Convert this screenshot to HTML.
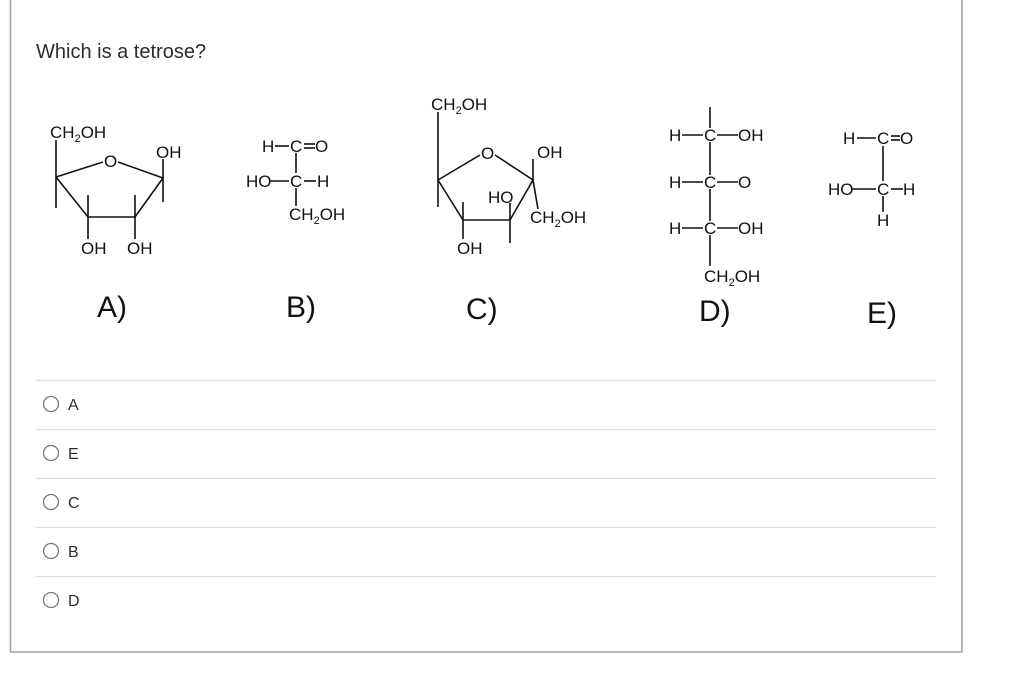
<!DOCTYPE html>
<html><head><meta charset="utf-8"><style>
html,body{margin:0;padding:0;background:#fff;width:1024px;height:688px;overflow:hidden}
svg{display:block}
.c{font-family:"Liberation Sans",Arial,sans-serif;font-size:17px;fill:#111}
.s{font-size:11px}
.L{font-family:"Liberation Sans",Arial,sans-serif;font-size:30px;fill:#111}
.o{font-family:"Liberation Sans",Arial,sans-serif;font-size:16px;fill:#2d2d2d}
</style></head><body>
<svg width="1024" height="688" viewBox="0 0 1024 688">
<rect x="10.5" y="-5" width="951.5" height="657" fill="none" stroke="#a0a0a0" stroke-width="1.5"/>
<text x="36" y="58" font-family="Liberation Sans,Arial,sans-serif" font-size="20" fill="#2d2d2d">Which is a tetrose?</text>

<g stroke="#111" stroke-width="1.6" fill="none">
<!-- A -->
<line x1="56" y1="140" x2="56" y2="208"/>
<polyline points="56,177 103,162"/><polyline points="118,162 163,178 135,217 88,217 56,177"/>
<line x1="163" y1="159" x2="163" y2="202"/>
<line x1="88" y1="195" x2="88" y2="239"/><line x1="135" y1="195" x2="135" y2="239"/>
<!-- B -->
<line x1="296" y1="153" x2="296" y2="173"/><line x1="296" y1="188" x2="296" y2="206"/>
<line x1="275" y1="146" x2="289" y2="146"/><line x1="304" y1="144" x2="315" y2="144"/><line x1="304" y1="148" x2="315" y2="148"/>
<line x1="270" y1="181" x2="289" y2="181"/><line x1="304" y1="181" x2="316" y2="181"/>
<!-- C -->
<line x1="438" y1="112" x2="438" y2="207"/>
<polyline points="438,180 480,155"/><polyline points="495,155 533,180 510,220 463,220 438,180"/>
<line x1="533" y1="159" x2="533" y2="180"/><line x1="533" y1="180" x2="538" y2="209"/>
<line x1="463" y1="202" x2="463" y2="239"/><line x1="510" y1="203" x2="510" y2="243"/>
<!-- D -->
<line x1="710" y1="107" x2="710" y2="128"/><line x1="710" y1="142" x2="710" y2="175"/>
<line x1="710" y1="189" x2="710" y2="221"/><line x1="710" y1="235" x2="710" y2="266"/>
<line x1="682" y1="135" x2="703" y2="135"/><line x1="717" y1="135" x2="738" y2="135"/>
<line x1="682" y1="182" x2="703" y2="182"/><line x1="717" y1="182" x2="738" y2="182"/>
<line x1="682" y1="228" x2="703" y2="228"/><line x1="717" y1="228" x2="738" y2="228"/>
<!-- E -->
<line x1="883" y1="146" x2="883" y2="181"/><line x1="883" y1="196" x2="883" y2="212"/>
<line x1="857" y1="138" x2="876" y2="138"/><line x1="891" y1="136" x2="900" y2="136"/><line x1="891" y1="140" x2="900" y2="140"/>
<line x1="852" y1="189" x2="876" y2="189"/><line x1="891" y1="189" x2="903" y2="189"/>
</g>

<!-- A text -->
<text class="c" x="50" y="138">CH<tspan class="s" dy="4">2</tspan><tspan dy="-4">OH</tspan></text>
<text class="c" x="104" y="167">O</text>
<text class="c" x="156" y="158">OH</text>
<text class="c" x="81" y="254">OH</text>
<text class="c" x="127" y="254">OH</text>
<text class="L" x="97" y="317">A)</text>
<!-- B text -->
<text class="c" x="262" y="152">H</text><text class="c" x="290" y="152">C</text><text class="c" x="315" y="152">O</text>
<text class="c" x="246" y="187">HO</text><text class="c" x="290" y="187">C</text><text class="c" x="317" y="187">H</text>
<text class="c" x="289" y="220">CH<tspan class="s" dy="4">2</tspan><tspan dy="-4">OH</tspan></text>
<text class="L" x="286" y="317">B)</text>
<!-- C text -->
<text class="c" x="431" y="110">CH<tspan class="s" dy="4">2</tspan><tspan dy="-4">OH</tspan></text>
<text class="c" x="481" y="159">O</text>
<text class="c" x="537" y="158">OH</text>
<text class="c" x="488" y="203">HO</text>
<text class="c" x="530" y="223">CH<tspan class="s" dy="4">2</tspan><tspan dy="-4">OH</tspan></text>
<text class="c" x="457" y="254">OH</text>
<text class="L" x="466" y="319">C)</text>
<!-- D text -->
<text class="c" x="669" y="141">H</text><text class="c" x="704" y="141">C</text><text class="c" x="738" y="141">OH</text>
<text class="c" x="669" y="188">H</text><text class="c" x="704" y="188">C</text><text class="c" x="738" y="188">O</text>
<text class="c" x="669" y="234">H</text><text class="c" x="704" y="234">C</text><text class="c" x="738" y="234">OH</text>
<text class="c" x="704" y="282">CH<tspan class="s" dy="4">2</tspan><tspan dy="-4">OH</tspan></text>
<text class="L" x="699" y="321">D)</text>
<!-- E text -->
<text class="c" x="843" y="144">H</text><text class="c" x="877" y="144">C</text><text class="c" x="900" y="144">O</text>
<text class="c" x="828" y="195">HO</text><text class="c" x="877" y="195">C</text><text class="c" x="903" y="195">H</text>
<text class="c" x="877" y="226">H</text>
<text class="L" x="867" y="323">E)</text>

<!-- options -->
<g stroke="#ddd" stroke-width="1.2">
<line x1="36" y1="380.5" x2="936" y2="380.5"/><line x1="36" y1="429.5" x2="936" y2="429.5"/>
<line x1="36" y1="478.5" x2="936" y2="478.5"/><line x1="36" y1="527.5" x2="936" y2="527.5"/>
<line x1="36" y1="576.5" x2="936" y2="576.5"/>
</g>
<g fill="none" stroke="#777" stroke-width="1.3">
<circle cx="51" cy="404" r="7.5"/><circle cx="51" cy="453" r="7.5"/><circle cx="51" cy="502" r="7.5"/>
<circle cx="51" cy="551" r="7.5"/><circle cx="51" cy="600" r="7.5"/>
</g>
<text class="o" x="68" y="410">A</text>
<text class="o" x="68" y="459">E</text>
<text class="o" x="68" y="508">C</text>
<text class="o" x="68" y="557">B</text>
<text class="o" x="68" y="606">D</text>
</svg>
</body></html>
